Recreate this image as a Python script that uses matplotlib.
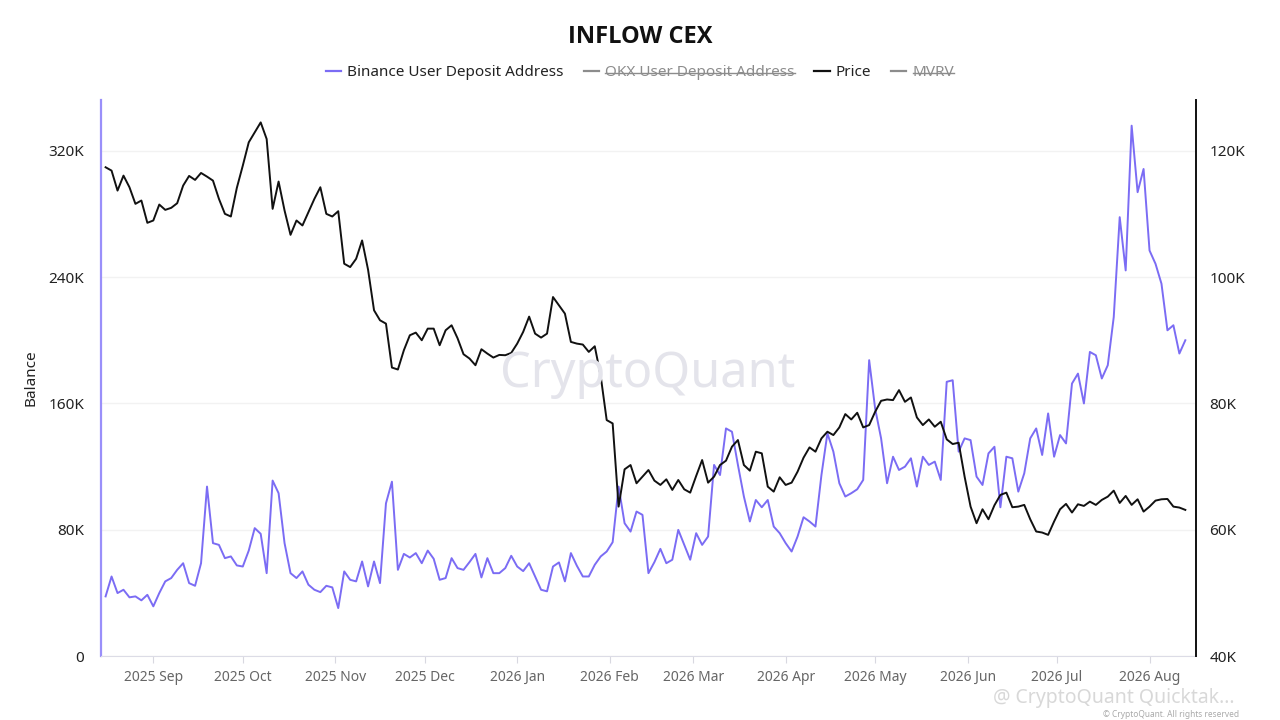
import matplotlib
matplotlib.use('Agg')
import matplotlib.pyplot as plt
import matplotlib.dates as mdates
from matplotlib.lines import Line2D
from matplotlib.ticker import FuncFormatter, MultipleLocator
import pandas as pd

plt.rcParams['font.family'] = ['Noto Sans', 'DejaVu Sans']

# Daily series, one value every second day
dates = pd.date_range('2025-08-16', periods=182, freq='2D')

# Binance user deposit address balance, in thousands
binance_k = [
    37.9, 50.5, 40.0, 42.1, 37.3, 37.9, 35.4, 38.9, 31.6, 40.0,
    47.4, 49.5, 54.7, 58.9, 46.3, 44.6, 58.9, 107.4, 71.6, 70.5,
    62.1, 63.2, 57.5, 56.8, 66.9, 81.1, 77.5, 52.6, 111.2, 103.2,
    71.6, 52.6, 49.5, 53.7, 45.3, 42.1, 40.6, 44.6, 43.6, 30.5,
    53.7, 48.4, 47.4, 60.0, 44.2, 60.0, 46.3, 96.8, 110.5, 54.7,
    64.8, 62.5, 65.3, 58.9, 66.9, 61.7, 48.4, 49.5, 62.1, 55.8,
    54.7, 59.6, 64.8, 49.9, 62.1, 52.6, 52.6, 55.8, 63.6, 56.8,
    53.9, 58.9, 50.5, 42.1, 41.1, 56.8, 59.4, 47.4, 65.3, 57.3,
    50.5, 50.5, 57.9, 63.2, 66.3, 72.2, 107.4, 84.2, 78.9, 91.6,
    89.5, 52.6, 59.6, 68.0, 58.9, 61.1, 80.0, 70.5, 61.1, 77.9,
    70.5, 75.8, 121.1, 114.7, 144.2, 142.1, 121.1, 101.1, 85.3, 98.9,
    94.3, 98.9, 82.1, 77.9, 71.6, 66.3, 75.8, 88.0, 85.3, 82.1,
    114.7, 141.1, 129.5, 109.5, 101.1, 103.2, 105.7, 111.6, 187.4, 156.8,
    137.9, 109.5, 126.3, 117.9, 120.0, 125.3, 107.4, 126.3, 121.1, 123.2,
    111.6, 173.7, 174.7, 129.5, 137.9, 136.8, 113.7, 108.4, 128.4, 132.6,
    94.3, 126.3, 125.3, 104.2, 115.8, 137.9, 144.2, 127.4, 153.7, 126.3,
    140.0, 134.7, 172.6, 178.9, 160.0, 192.6, 190.5, 175.8, 184.2, 214.7,
    277.9, 244.2, 335.8, 293.7, 308.4, 256.8, 248.4, 235.8, 206.3, 209.5,
    191.6, 200.0,
]

# BTC price, in thousands of USD
price_k = [
    117.37, 116.84, 113.68, 116.05, 114.21, 111.58, 112.11, 108.58, 108.95, 111.47,
    110.63, 110.95, 111.68, 114.47, 116.00, 115.37, 116.47, 115.89, 115.26, 112.37,
    110.00, 109.58, 114.11, 117.63, 121.32, 122.89, 124.47, 121.84, 110.79, 115.11,
    110.53, 106.68, 108.95, 108.16, 110.26, 112.37, 114.21, 110.00, 109.58, 110.42,
    102.11, 101.58, 102.89, 105.79, 101.16, 94.74, 93.16, 92.63, 85.68, 85.37,
    88.42, 90.79, 91.21, 90.00, 91.84, 91.84, 89.21, 91.58, 92.37, 90.32,
    87.79, 87.11, 86.05, 88.58, 87.89, 87.26, 87.68, 87.63, 88.00, 89.47,
    91.32, 93.74, 91.05, 90.42, 91.05, 96.84, 95.53, 94.21, 89.74, 89.47,
    89.32, 88.16, 89.05, 84.32, 77.37, 76.84, 63.68, 69.58, 70.26, 67.37,
    68.42, 69.47, 67.79, 67.11, 68.00, 66.32, 67.89, 66.42, 65.89, 68.53,
    71.05, 67.47, 68.42, 70.26, 70.95, 73.16, 74.21, 70.26, 69.37, 72.37,
    72.11, 66.84, 66.05, 68.32, 67.11, 67.47, 69.21, 71.42, 73.05, 72.37,
    74.47, 75.53, 75.00, 76.21, 78.32, 77.47, 78.53, 76.21, 76.58, 78.68,
    80.42, 80.63, 80.53, 82.11, 80.26, 80.95, 77.79, 76.58, 77.47, 76.32,
    77.11, 74.32, 73.58, 73.79, 68.42, 63.68, 61.05, 63.26, 61.68, 63.89,
    65.53, 65.89, 63.58, 63.68, 63.95, 61.68, 59.74, 59.58, 59.21, 61.32,
    63.26, 64.11, 62.74, 64.05, 63.79, 64.47, 63.95, 64.74, 65.26, 66.21,
    64.26, 65.37, 63.95, 64.84, 62.89, 63.68, 64.63, 64.84, 64.89, 63.68,
    63.53, 63.16,
]

series_names = ['Binance User Deposit Address', 'OKX User Deposit Address', 'Price', 'MVRV']
hidden_series = ['OKX User Deposit Address', 'MVRV']

binance = [v * 1000 for v in binance_k]
price = [v * 1000 for v in price_k]

purple = '#7b6cf4'
grey_txt = '#666666'

fig = plt.figure(figsize=(12.8, 7.2), dpi=100)
ax = fig.add_axes([0.079, 0.0885, 0.855, 0.7725])
ax2 = ax.twinx()

ax.plot(dates, binance, color=purple, lw=1.4, zorder=3)
ax2.plot(dates, price, color='#111111', lw=1.4, zorder=3)

# axes limits and ticks
ax.set_xlim(pd.Timestamp('2025-08-14 12:00'), pd.Timestamp('2026-08-16 10:00'))
ax.set_ylim(0, 352000)
ax2.set_ylim(40000, 128000)
ax.yaxis.set_major_locator(MultipleLocator(80000))
ax2.yaxis.set_major_locator(MultipleLocator(20000))

kfmt = FuncFormatter(lambda v, p: '0' if v == 0 else f'{int(round(v / 1000))}K')
ax.yaxis.set_major_formatter(kfmt)
ax2.yaxis.set_major_formatter(kfmt)

ax.xaxis.set_major_locator(mdates.MonthLocator())
ax.xaxis.set_major_formatter(mdates.DateFormatter('%Y %b'))

ax.grid(axis='y', color='#f2f2f2', lw=1.0)
ax.set_axisbelow(True)

ax.tick_params(axis='y', length=0, pad=12, labelsize=11, labelcolor='#222222')
ax2.tick_params(axis='y', length=0, pad=10, labelsize=11, labelcolor='#222222')
ax.tick_params(axis='x', length=5, color='#d8d8e0', pad=5, labelsize=10, labelcolor=grey_txt)

for a in (ax, ax2):
    a.spines['top'].set_visible(False)
ax.spines['left'].set_color('#9a8ffa')
ax.spines['left'].set_linewidth(1.6)
ax.spines['right'].set_visible(False)
ax.spines['bottom'].set_color('#dcdce6')
ax2.spines['left'].set_visible(False)
ax2.spines['bottom'].set_visible(False)
ax2.spines['right'].set_color('#111111')
ax2.spines['right'].set_linewidth(1.4)

ax.set_ylabel('Balance', fontsize=11, color='#222222', labelpad=-2)
ax.yaxis.set_label_coords(-0.057, 0.5)

# watermark
fig.text(0.506, 0.48, 'CryptoQuant', fontsize=35, color='#e4e4eb',
         ha='center', va='center', zorder=0)

fig.text(0.5, 0.948, 'INFLOW CEX', fontsize=17, weight='bold',
         family=['Open Sans', 'Lato', 'DejaVu Sans'],
         ha='center', va='center', color='#111111')

# legend, hidden series shown struck through in grey
handle_colors = [purple, '#8c8c8c', '#111111', '#8c8c8c']
handles = [Line2D([], [], color=c, lw=1.6) for c in handle_colors]
leg = fig.legend(handles, series_names, loc='center', bbox_to_anchor=(0.5, 0.899),
                 ncol=4, frameon=False, fontsize=11, handlelength=1.0,
                 handletextpad=0.4, columnspacing=1.3)
for txt in leg.get_texts():
    if txt.get_text() in hidden_series:
        txt.set_color('#8c8c8c')
    else:
        txt.set_color('#222222')

fig.canvas.draw()
renderer = fig.canvas.get_renderer()
inv = fig.transFigure.inverted()
for txt in leg.get_texts():
    if txt.get_text() in hidden_series:
        bb = txt.get_window_extent(renderer).transformed(inv)
        ym = bb.y0 + bb.height * 0.5
        fig.add_artist(Line2D([bb.x0, bb.x1], [ym, ym], color='#8c8c8c',
                              lw=1.0, transform=fig.transFigure))

# footer marks
fig.text(0.87, 0.031, '@ CryptoQuant Quicktak...', fontsize=14,
         color='#c8c8c8', ha='center', va='center', alpha=0.7)
fig.text(0.915, 0.001, '© CryptoQuant. All rights reserved', fontsize=6,
         color='#aaaaaa', ha='center', va='bottom')

fig.savefig('out.png', dpi=100, facecolor='white')
